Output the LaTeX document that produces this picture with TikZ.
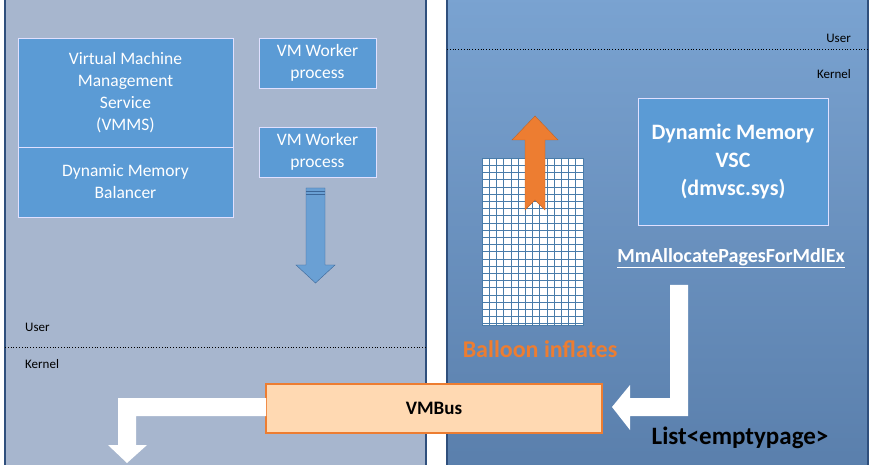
\documentclass[tikz,border=0pt]{standalone}
\usepackage{fontspec}
\setmainfont{Carlito}
\begin{document}
\begin{tikzpicture}[x=1pt,y=-1pt,
  box/.style={draw=white!70!blue!40,fill=bx,text=white,align=center,font=\fontsize{17.5}{22}\selectfont,inner sep=0},
  lbl/.style={font=\fontsize{13}{15}\selectfont,text=black,inner sep=0}]
\definecolor{bx}{HTML}{5B9BD5}
\definecolor{lp}{HTML}{A7B6CE}
\definecolor{rtop}{HTML}{7AA3D1}
\definecolor{rbot}{HTML}{5A7FAC}
\definecolor{edge}{HTML}{2F4F7C}
\definecolor{org}{HTML}{ED7D31}
\useasboundingbox (0,0) rectangle (884,465);
\fill[white] (0,0) rectangle (884,465);
\fill[lp] (5,-5) rectangle (426,470);
\draw[edge,line width=1.5] (5,-5) -- (5,470) (426,-5) -- (426,470);
\shade[top color=rtop,bottom color=rbot] (447,-5) rectangle (868,470);
\draw[edge,line width=1.5] (447,-5) -- (447,470) (868,-5) -- (868,470);
% left panel
\node[box,minimum width=215,minimum height=109] (vmms) at (125.5,92.5) {Virtual Machine\\Management\\Service\\(VMMS)};
\node[box,minimum width=215,minimum height=70] (dmb) at (125.5,182) {Dynamic Memory\\Balancer};
\node[box,minimum width=117,minimum height=50] (w1) at (317.5,63) {VM Worker\\process};
\node[box,minimum width=117,minimum height=50] (w2) at (317.5,152) {VM Worker\\process};
\draw[edge!70!bx,fill=bx!80!lp] (306,188) -- (325,188) -- (325,265) -- (335,265) -- (315.5,283) -- (296,265) -- (306,265) -- cycle;
\draw[edge!70!bx] (306,191) -- (325,191) (306,194) -- (325,194);
\draw[dotted,thick] (5,347) -- (426,347);
\node[lbl,anchor=west] (u1) at (25,327) {User};
\node[lbl,anchor=west] (k1) at (25,364) {Kernel};
% right panel
\draw[dotted,thick] (447,49) -- (868,49);
\node[lbl,anchor=east] (u2) at (851,38) {User};
\node[lbl,anchor=east] (k2) at (851,74) {Kernel};
\node[box,minimum width=190,minimum height=127,font=\fontsize{22}{28}\selectfont\bfseries,text=white] (vsc) at (733,161.5) {Dynamic Memory\\VSC\\(dmvsc.sys)};
\fill[white] (482,158) rectangle (583,325);
\foreach \i in {0,...,14} \draw[bx!80!black,line width=0.4] (482+7.2*\i,158) -- (482+7.2*\i,325);
\foreach \j in {0,...,23} \draw[bx!80!black,line width=0.4] (482,158+7.2*\j) -- (583,158+7.2*\j);
\draw[bx!80!black,line width=0.4] (482,158) rectangle (583,325);
\draw[org!80!black,fill=org] (525,210) -- (525,140) -- (512,140) -- (535,116) -- (558,140) -- (545,140) -- (545,210) -- (535,200) -- cycle;
\node[font=\fontsize{24}{28}\selectfont\bfseries,text=org,inner sep=0] (bal) at (540,349) {Balloon inflates};
\node[font=\fontsize{20}{22}\selectfont\bfseries,text=white,inner sep=0] (mm) at (731,258) {\underline{MmAllocatePagesForMdlEx}};
\node[draw=org,line width=2,fill=orange!30!white,minimum width=336,minimum height=49,font=\fontsize{19}{22}\selectfont\bfseries,inner sep=0] (vmb) at (434,408.5) {VMBus};
\fill[white] (670,285) -- (688,285) -- (688,416) -- (630,416) -- (630,430) -- (612,407) -- (630,385) -- (630,398) -- (670,398) -- cycle;
\fill[white] (266,398) -- (266,416) -- (136,416) -- (136,445) -- (147,445) -- (127,463) -- (108,445) -- (118,445) -- (118,398) -- cycle;
\node[font=\fontsize{25}{28}\selectfont\bfseries,inner sep=0] (lst) at (740,438) {List<emptypage>};
\end{tikzpicture}
\end{document}
